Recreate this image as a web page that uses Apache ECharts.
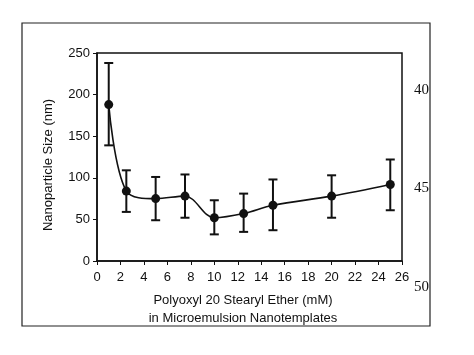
<!DOCTYPE html>
<html><head><meta charset="utf-8">
<script src="https://cdn.jsdelivr.net/npm/echarts@6/dist/echarts.min.js"></script>
<style>html,body{margin:0;padding:0;background:#fff}#c{width:474px;height:355px}</style>
</head><body><div id="c"></div>
<script>
const concentration = [1, 2.5, 5, 7.5, 10, 12.5, 15, 20, 25];
const particleSize = [188, 84, 75, 78, 52, 57, 67, 78, 92];
const errorHigh = [238, 109, 101, 104, 73, 81, 98, 103, 122];
const errorLow = [139, 59, 49, 52, 32, 35, 37, 52, 61];
const sideNumbers = ['40', '45', '50'];

const chart = echarts.init(document.getElementById('c'));
const font = 'Liberation Sans, Arial, sans-serif';
const lineData = concentration.map((x, i) => [x, particleSize[i]]);
const errData = concentration.map((x, i) => [x, errorLow[i], errorHigh[i]]);

chart.setOption({
  animation: false,
  backgroundColor: '#fff',
  grid: {left: 97, top: 53, width: 305, height: 208, show: true, borderColor: '#111', borderWidth: 1.5, backgroundColor: 'transparent'},
  xAxis: {
    type: 'value', min: 0, max: 26, interval: 2,
    axisLine: {onZero: false, lineStyle: {color: '#111', width: 1.5}},
    axisTick: {show: true, inside: false, length: 4, lineStyle: {color: '#111'}},
    axisLabel: {color: '#111', fontFamily: font, fontSize: 13, margin: 10},
    splitLine: {show: false}
  },
  yAxis: {
    type: 'value', min: 0, max: 250, interval: 50,
    name: 'Nanoparticle Size (nm)', nameLocation: 'middle', nameGap: 42, nameRotate: 90,
    nameTextStyle: {color: '#111', fontFamily: font, fontSize: 13, padding: [0, 0, 0, -16]},
    axisLine: {lineStyle: {color: '#111', width: 1.5}},
    axisTick: {show: true, length: 4, lineStyle: {color: '#111'}},
    axisLabel: {color: '#111', fontFamily: font, fontSize: 13, margin: 7},
    splitLine: {show: false}
  },
  graphic: [
    {type: 'rect', shape: {x: 22, y: 23, width: 408, height: 303}, style: {fill: 'none', stroke: '#222', lineWidth: 1.2}, z: -1},
    {type: 'text', x: 243, y: 300, style: {text: 'Polyoxyl 20 Stearyl Ether (mM)', font: '13px ' + font, fill: '#111', textAlign: 'center', textVerticalAlign: 'middle'}},
    {type: 'text', x: 243, y: 318, style: {text: 'in Microemulsion Nanotemplates', font: '13px ' + font, fill: '#111', textAlign: 'center', textVerticalAlign: 'middle'}},
    {type: 'text', x: 429, y: 90, style: {text: sideNumbers[0], font: '15px Liberation Serif, Times New Roman, serif', fill: '#111', textAlign: 'right', textVerticalAlign: 'middle'}},
    {type: 'text', x: 429, y: 188, style: {text: sideNumbers[1], font: '15px Liberation Serif, Times New Roman, serif', fill: '#111', textAlign: 'right', textVerticalAlign: 'middle'}},
    {type: 'text', x: 429, y: 287, style: {text: sideNumbers[2], font: '15px Liberation Serif, Times New Roman, serif', fill: '#111', textAlign: 'right', textVerticalAlign: 'middle'}}
  ],
  series: [
    {
      type: 'custom',
      renderItem: function (params, api) {
        const x = api.value(0);
        const lo = api.coord([x, api.value(1)]);
        const hi = api.coord([x, api.value(2)]);
        const hw = 4.5;
        const st = {stroke: '#111', lineWidth: 2};
        return {type: 'group', children: [
          {type: 'line', shape: {x1: lo[0], y1: lo[1], x2: hi[0], y2: hi[1]}, style: st},
          {type: 'line', shape: {x1: lo[0] - hw, y1: lo[1], x2: lo[0] + hw, y2: lo[1]}, style: st},
          {type: 'line', shape: {x1: hi[0] - hw, y1: hi[1], x2: hi[0] + hw, y2: hi[1]}, style: st}
        ]};
      },
      encode: {x: 0, y: [1, 2]},
      data: errData, z: 2
    },
    {
      type: 'line', data: lineData, smooth: 0.35,
      symbol: 'circle', symbolSize: 9,
      itemStyle: {color: '#111'},
      lineStyle: {color: '#111', width: 1.6}, z: 3
    }
  ]
});
</script></body></html>
